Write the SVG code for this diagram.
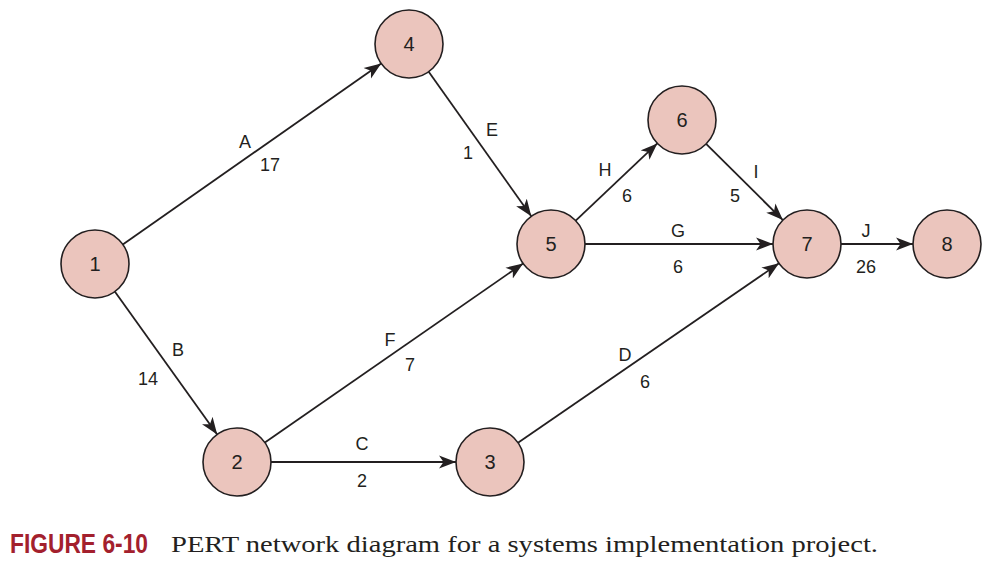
<svg xmlns="http://www.w3.org/2000/svg" width="988" height="572" viewBox="0 0 988 572">
<defs>
<style>
.node circle{fill:#ebc5bd;stroke:#231f20;stroke-width:1.6}
.node text{font-family:"Liberation Sans",Arimo,Roboto,"Noto Sans",sans-serif;font-size:20px;fill:#231f20;text-anchor:middle;dominant-baseline:central}
#edges line{stroke:#231f20;stroke-width:1.8;marker-end:url(#arr)}
.lbl{font-family:"Liberation Sans",Arimo,Roboto,"Noto Sans",sans-serif;font-size:18px;fill:#231f20;text-anchor:middle;dominant-baseline:central}
</style>
<marker id="arr" markerUnits="userSpaceOnUse" markerWidth="18" markerHeight="14" refX="17" refY="7" orient="auto" viewBox="0 0 18 14">
<path d="M0,0.5 L17,7 L0,13.5 L4.5,7 z" fill="#231f20"/>
</marker>
</defs>
<rect width="988" height="572" fill="#ffffff"/>
<g id="edges">
<line x1="122.8" y1="244.5" x2="381.2" y2="63.5"/>
<line x1="428.7" y1="71.7" x2="531.3" y2="216.3"/>
<line x1="575.7" y1="220.6" x2="657.3" y2="143.4"/>
<line x1="585" y1="244" x2="773" y2="244"/>
<line x1="706.1" y1="143.9" x2="782.9" y2="220.1"/>
<line x1="841" y1="244" x2="913" y2="244"/>
<line x1="114.8" y1="291.6" x2="217.2" y2="434.4"/>
<line x1="264.9" y1="442.6" x2="523.1" y2="263.4"/>
<line x1="271" y1="462" x2="456" y2="462"/>
<line x1="518" y1="442.7" x2="779" y2="263.3"/>
</g>
<g id="edge-labels">
<text class="lbl" x="245" y="142">A</text><text class="lbl" x="270" y="165">17</text>
<text class="lbl" x="492" y="130">E</text><text class="lbl" x="468" y="153">1</text>
<text class="lbl" x="605" y="170">H</text><text class="lbl" x="627" y="196">6</text>
<text class="lbl" x="756" y="172">I</text><text class="lbl" x="735" y="196">5</text>
<text class="lbl" x="678" y="231">G</text><text class="lbl" x="678" y="267">6</text>
<text class="lbl" x="866" y="231">J</text><text class="lbl" x="866" y="267">26</text>
<text class="lbl" x="178" y="350">B</text><text class="lbl" x="148" y="379">14</text>
<text class="lbl" x="390" y="340">F</text><text class="lbl" x="410" y="365">7</text>
<text class="lbl" x="362" y="444">C</text><text class="lbl" x="362" y="481">2</text>
<text class="lbl" x="625" y="355">D</text><text class="lbl" x="645" y="382">6</text>
</g>
<g id="node1" class="node"><circle cx="95" cy="264" r="34"/><text x="95" y="264">1</text></g>
<g id="node2" class="node"><circle cx="237" cy="462" r="34"/><text x="237" y="462">2</text></g>
<g id="node3" class="node"><circle cx="490" cy="462" r="34"/><text x="490" y="462">3</text></g>
<g id="node4" class="node"><circle cx="409" cy="44" r="34"/><text x="409" y="44">4</text></g>
<g id="node5" class="node"><circle cx="551" cy="244" r="34"/><text x="551" y="244">5</text></g>
<g id="node6" class="node"><circle cx="682" cy="120" r="34"/><text x="682" y="120">6</text></g>
<g id="node7" class="node"><circle cx="807" cy="244" r="34"/><text x="807" y="244">7</text></g>
<g id="node8" class="node"><circle cx="947" cy="244" r="34"/><text x="947" y="244">8</text></g>
<g id="caption">
<text x="10" y="553" font-family="'Liberation Sans',Arimo,Roboto,'Noto Sans',sans-serif" font-weight="bold" font-size="27" fill="#a3202d" textLength="138" lengthAdjust="spacingAndGlyphs">FIGURE 6-10</text>
<text x="171" y="552" font-family="'Liberation Serif',Tinos,'Times New Roman','DejaVu Serif',serif" font-size="23" fill="#231f20" textLength="707" lengthAdjust="spacingAndGlyphs">PERT network diagram for a systems implementation project.</text>
</g>
</svg>
